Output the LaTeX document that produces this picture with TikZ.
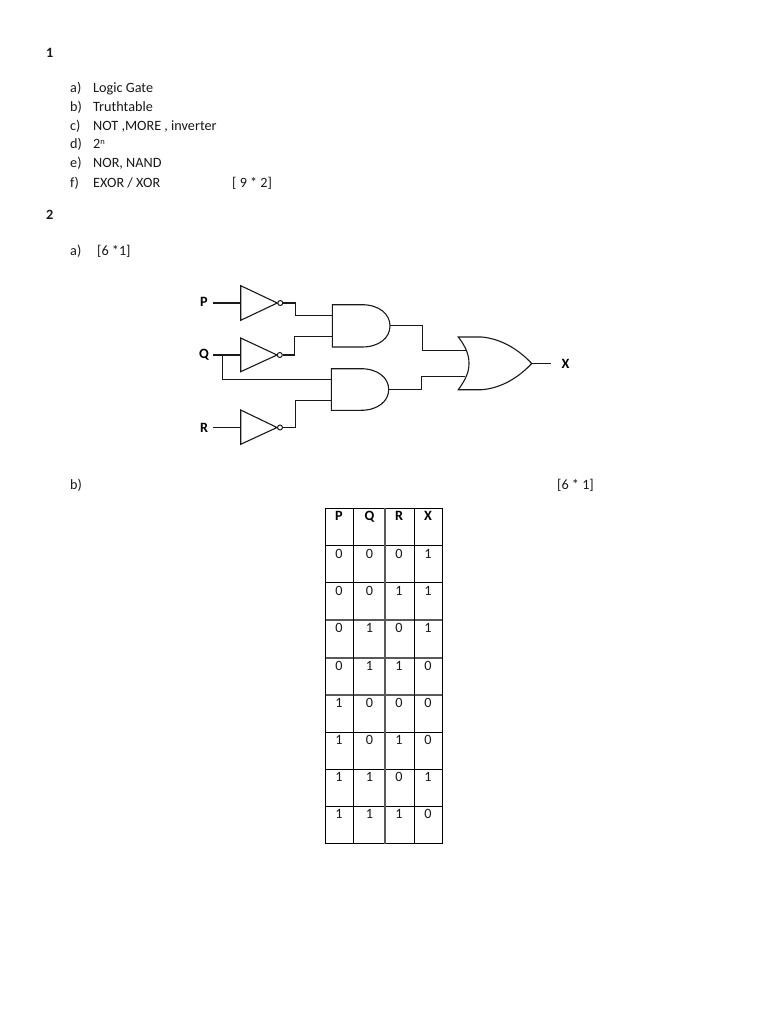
\documentclass[tikz,border=0pt]{standalone}
\usepackage{fontspec}
\setmainfont{Carlito}
\newcommand{\fsz}{\fontsize{14.2}{17}\selectfont}
\tikzset{
  txt/.style={anchor=base west,inner sep=0pt,font=\fsz,text=black!90},
  lab/.style={anchor=center,inner sep=0pt,font=\fsz\bfseries},
  cell/.style={anchor=base,inner sep=0pt,font=\fsz,text=black!90},
  head/.style={cell,font=\fsz\bfseries,text=black},
  wire/.style={line width=1.1pt,black!90,line join=miter},
  gate/.style={line width=1.1pt,black!90,fill=white,line join=miter},
  bubble/.style={circle,draw=black!90,line width=1pt,fill=white,inner sep=0pt,minimum size=5pt},
  tab/.style={line width=1.2pt,black},
  tabsoft/.style={line width=1.8pt,black!65}
}
\begin{document}
\begin{tikzpicture}[x=1pt,y=-1pt]
\useasboundingbox[fill=white] (0,0) rectangle (768,1024);
% text
\node[txt,font=\fsz\bfseries] (h1) at (46,57.5) {1};
\node[txt] (a1) at (70,93) {a)};   \node[txt] (a1t) at (93,93) {Logic Gate};
\node[txt] (b1) at (70,112) {b)};  \node[txt] (b1t) at (93,112) {Truthtable};
\node[txt] (c1) at (70,131) {c)};  \node[txt] (c1t) at (93,131) {NOT ,MORE , inverter};
\node[txt] (d1) at (70,149) {d)};  \node[txt] (d1t) at (93,149) {2\raisebox{4pt}{\fontsize{8.5}{9}\selectfont n}};
\node[txt] (e1) at (70,168) {e)};  \node[txt] (e1t) at (93,168) {NOR, NAND};
\node[txt] (f1) at (70,188) {f)};  \node[txt] (f1t) at (93,188) {EXOR / XOR};
\node[txt] (m1) at (232,188) {[ 9 * 2]};
\node[txt,font=\fsz\bfseries] (h2) at (46,219) {2};
\node[txt] (a2) at (70,255) {a)};  \node[txt] (m2) at (97,255) {[6 *1]};
\node[txt] (b2) at (70,489) {b)};  \node[txt] (m3) at (557,489) {[6 * 1]};
% input and output labels
\node[lab] (P) at (204,302) {P};
\node[lab] (Q) at (204,355) {Q};
\node[lab] (R) at (204,428) {R};
\node[lab] (X) at (565.5,364) {X};
% inverters
\draw[gate] (240.7,285.7) coordinate (ip) -- (277.3,303) -- (240.7,320.3) -- cycle;
\draw[gate] (240.7,338) coordinate (iq) -- (277,355) -- (240.7,371.7) -- cycle;
\draw[gate] (240.7,410) coordinate (ir) -- (277,427.5) -- (240.7,444.3) -- cycle;
\node[bubble] (bp) at (280.3,303) {};
\node[bubble] (bq) at (279.8,355) {};
\node[bubble] (br) at (280,427.5) {};
\coordinate (ipin) at (240.7,303);
\coordinate (iqin) at (240.7,355);
\coordinate (irin) at (240.7,427.5);
\coordinate (pw) at (212.7,303);
\coordinate (qw) at (212.7,355);
\coordinate (rw) at (212.7,427.5);
% AND gates
\draw[gate] (332.3,304.7) -- (362,304.7) .. controls (379,304.7) and (390,314) .. (390,325.8) .. controls (390,338) and (379,347) .. (362,347) -- (332.3,347) -- cycle;
\draw[gate] (331.3,368.7) -- (361,368.7) .. controls (378,368.7) and (388.7,378) .. (388.7,389.5) .. controls (388.7,401) and (378,410.3) .. (361,410.3) -- (331.3,410.3) -- cycle;
\coordinate (a1a) at (332.3,315.3);
\coordinate (a1b) at (332.3,336.3);
\coordinate (a1o) at (390,325.5);
\coordinate (a2a) at (331.3,379.3);
\coordinate (a2b) at (331.3,400.3);
\coordinate (a2o) at (388.7,389.3);
% OR gate
\draw[gate] (458.3,337) -- (481.7,337) .. controls (503,339) and (520,351) .. (531.7,363.5) .. controls (520,376) and (503,388) .. (481.7,389.7) -- (458.3,389.7) .. controls (466,379) and (469,372) .. (469,363.3) .. controls (469,355) and (466,347) .. (458.3,337) -- cycle;
\coordinate (oa) at (466,350.7);
\coordinate (ob) at (465,376.3);
\coordinate (oo) at (531.7,363.7);
\coordinate (xw) at (551,363.7);
% connectors
\draw[wire] (pw) -- (ipin);
\draw[wire] (qw) -- (iqin);
\draw[wire] (rw) -- (irin);
\coordinate (jq) at (222.3,355);
\draw[wire] (jq) |- (a2a);
\draw[wire] (bp.east) -- (295.3,303) |- (a1a);
\draw[wire] (bq.east) -- (294.3,355) |- (a1b);
\draw[wire] (br.east) -- (295.3,427.5) |- (a2b);
\draw[wire] (a1o) -- (422.3,325.5) |- (oa);
\draw[wire] (a2o) -- (421.3,389.3) |- (ob);
\draw[wire] (oo) -- (xw);
% table
\foreach \y in {508.5,545.5,582.5,732.5,769.5,806.5,843.5}
  \draw[tab] (325.3,\y) -- (442.7,\y);
\foreach \y in {619.7,657.9,695}
  \draw[tabsoft] (325.3,\y) -- (442.7,\y);
\foreach \x in {325.5,353.5,414.5,442.5}
  \draw[tab] (\x,508.3) -- (\x,843.7);
\draw[tabsoft] (385.2,508.3) -- (385.2,843.7);
\node[head] (tP) at (339,520.5) {P};
\node[head] (tQ) at (369.5,520.5) {Q};
\node[head] (tR) at (399,520.5) {R};
\node[head] (tX) at (428,520.5) {X};
\foreach \n/\y/\a/\b/\c/\d in {1/558/0/0/0/1,2/595/0/0/1/1,3/632.7/0/1/0/1,4/670/0/1/1/0,5/707.2/1/0/0/0,6/744.5/1/0/1/0,7/781.5/1/1/0/1,8/818.5/1/1/1/0}{
  \node[cell] (c\n a) at (339,\y) {\a};
  \node[cell] (c\n b) at (369.5,\y) {\b};
  \node[cell] (c\n c) at (399,\y) {\c};
  \node[cell] (c\n d) at (428,\y) {\d};
}
\end{tikzpicture}
\end{document}
